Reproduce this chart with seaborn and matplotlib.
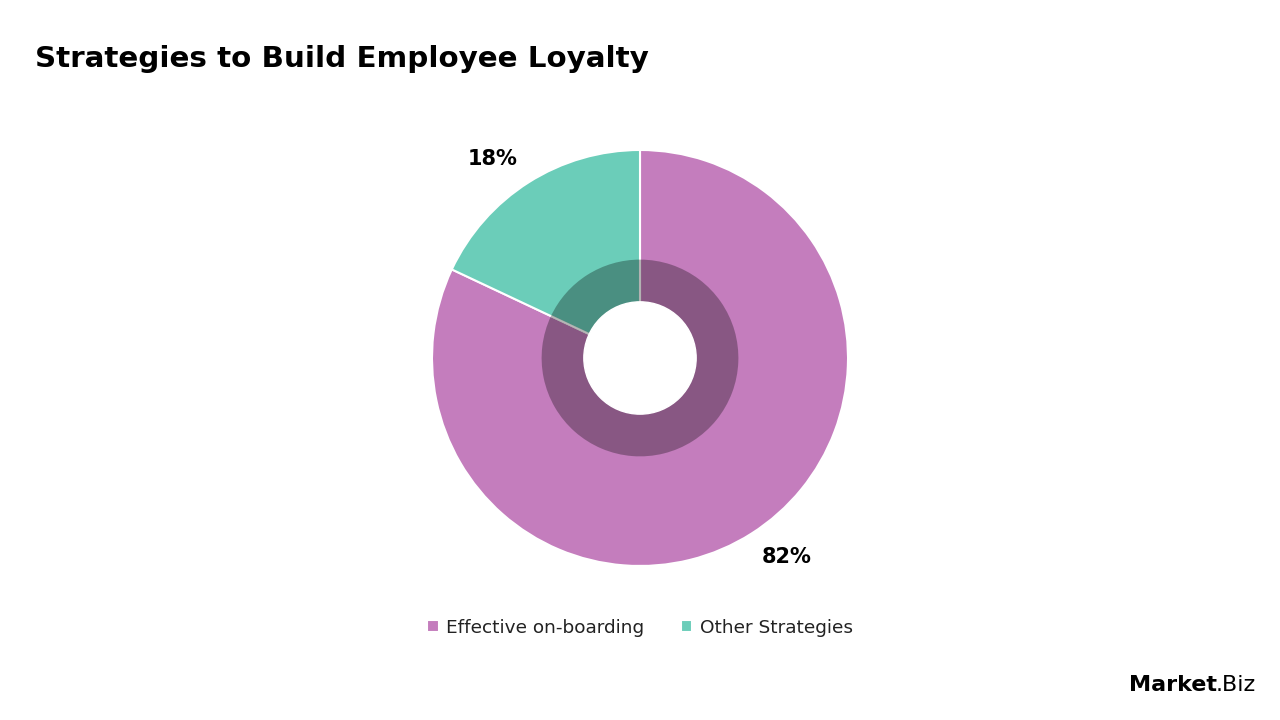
import matplotlib
matplotlib.use("Agg")
import numpy as np
import matplotlib.pyplot as plt
import seaborn as sns

labels = ["Effective on-boarding", "Other Strategies"]
shares = [82, 18]
colors = ["#C47DBD", "#6BCDB9"]

sns.set_theme(style="white")
plt.rcParams['font.family'] = ['DejaVu Sans']
plt.rcParams['text.color'] = 'black'

fig = plt.figure(figsize=(12.8, 7.2), dpi=100)
fig.patch.set_facecolor("white")

# pie axes: centre ~ (640, 358) px, outer radius ~208 px
ax = fig.add_axes([0.3375, 0.2139, 0.325, 0.5778])
wedges, _, autotexts = ax.pie(
    shares, colors=colors, startangle=90, counterclock=False,
    radius=1.0, autopct='%d%%', pctdistance=1.19,
    wedgeprops=dict(edgecolor="white", linewidth=1.5),
    textprops=dict(fontsize=15, fontweight="bold", color="black"))

# labels sit a few degrees further round in the reference
rot = np.deg2rad(4)
for t in autotexts:
    x, y = t.get_position()
    t.set_position((x * np.cos(rot) - y * np.sin(rot),
                    x * np.sin(rot) + y * np.cos(rot)))

# darker inner ring overlay
ax.pie(shares, colors=["black", "black"], startangle=90, counterclock=False,
       radius=0.473, wedgeprops=dict(width=0.204, alpha=0.3, linewidth=0))
ax.add_patch(plt.Circle((0, 0), 0.27, color="white", zorder=5))

ax.set_xlim(-1, 1)
ax.set_ylim(-1, 1)
ax.set_aspect("equal")
ax.axis("off")

fig.text(0.027, 0.918, "Strategies to Build Employee Loyalty",
         fontsize=21.2, fontweight="bold", ha="left", va="center")

leg = fig.legend(wedges, labels, loc="center", bbox_to_anchor=(0.5, 0.128),
                 ncol=2, frameon=False, fontsize=13.3, handlelength=0.6,
                 handleheight=0.6, columnspacing=2.0, handletextpad=0.4)
for t in leg.get_texts():
    t.set_color("#222222")

fig.text(0.951, 0.035, "Market", fontsize=16, fontweight="bold",
         ha="right", va="bottom")
fig.text(0.981, 0.035, ".Biz", fontsize=16, ha="right", va="bottom")

fig.savefig("out.png", dpi=100, facecolor="white")
